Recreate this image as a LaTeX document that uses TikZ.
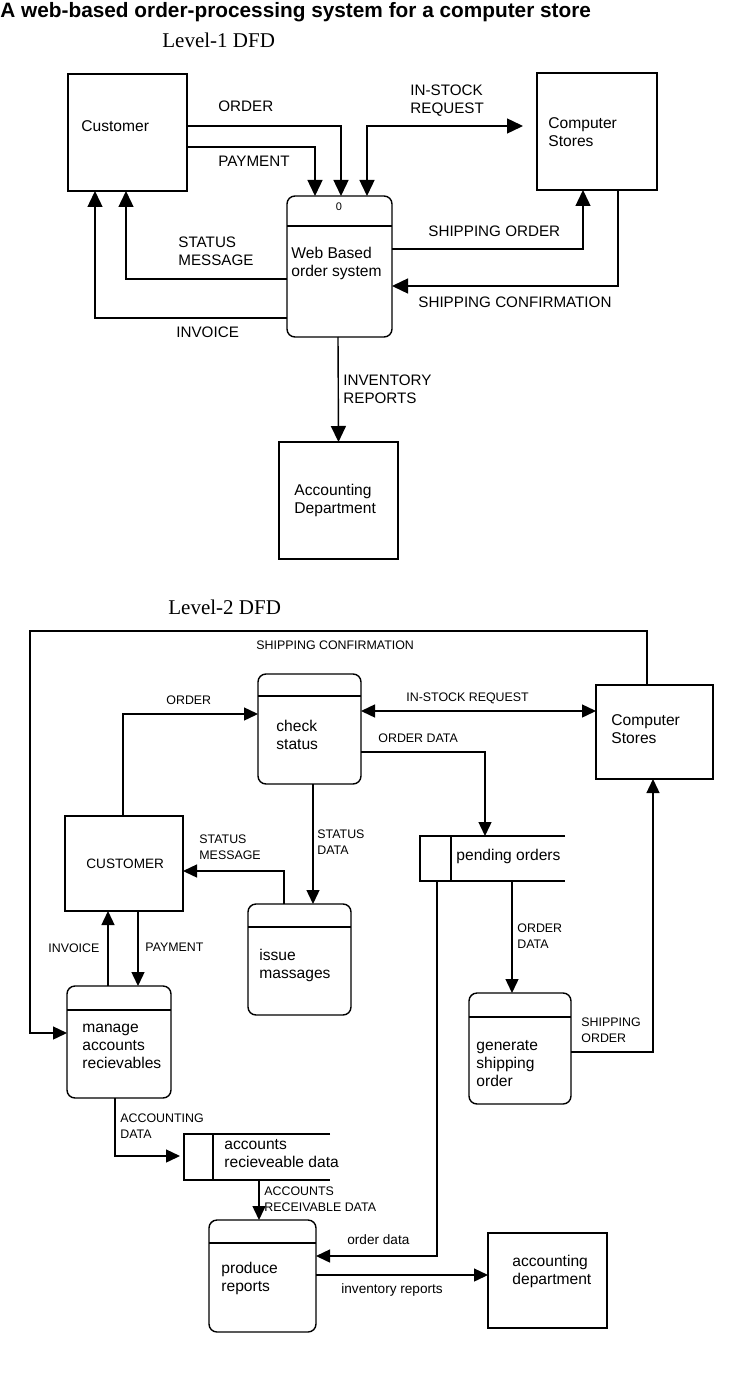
\documentclass[tikz,border=0pt]{standalone}
\usepackage{fontspec}
\setmainfont{Liberation Sans}
\newfontfamily\serifF{Liberation Serif}
\usetikzlibrary{arrows.meta}
\begin{document}
\begin{tikzpicture}[x=0.5pt,y=-0.5pt,
  box/.style={draw,line width=0.7pt,inner sep=0pt,outer sep=0pt},
  proc/.style={box,rounded corners=4pt},
  ghost/.style={inner sep=0pt,outer sep=0pt},
  t1/.style={font=\fontsize{7.6}{9}\selectfont,anchor=north west,align=left,inner sep=0pt},
  t2/.style={font=\fontsize{6.2}{8}\selectfont,anchor=north west,align=left,inner sep=0pt},
  tn/.style={font=\fontsize{7.8}{9}\selectfont,anchor=north west,align=left,inner sep=0pt},
  a1/.style={line width=0.7pt,-{Triangle[length=8pt,width=7.5pt]}},
  a1b/.style={line width=0.7pt,{Triangle[length=8pt,width=7.5pt]}-{Triangle[length=8pt,width=7.5pt]}},
  a2/.style={line width=0.7pt,-{Triangle[length=7pt,width=6.5pt]}},
  a2b/.style={line width=0.7pt,{Triangle[length=7pt,width=6.5pt]}-{Triangle[length=7pt,width=6.5pt]}},
  ln/.style={line width=0.7pt}]
\useasboundingbox[fill=white] (0,0) rectangle (740,1390);
% titles
\node[anchor=west,inner sep=0pt,font=\fontsize{10.4}{12}\selectfont\bfseries] (title) at (0,12) {A web-based order-processing system for a computer store};
\node[anchor=west,inner sep=0pt,font=\serifF\fontsize{10.5}{12}\selectfont] (lev1) at (162,40) {Level-1 DFD};
\node[anchor=west,inner sep=0pt,font=\serifF\fontsize{10.5}{12}\selectfont] (lev2) at (168,607) {Level-2 DFD};
% ---------- Level 1 ----------
\node[box,minimum width=59.5pt,minimum height=58.5pt] (cust) at (127.5,132.5) {};
\node[tn] (custT) at (81,120) {Customer};
\node[box,minimum width=60pt,minimum height=58.5pt] (cs) at (597,131.5) {};
\node[tn] (csT) at (548,117) {Computer\\Stores};
\node[proc,minimum width=52.5pt,minimum height=70.5pt] (web) at (339.5,266.5) {};
\draw[ln] (web.west|-0,226) -- (web.east|-0,226);
\node[font=\fontsize{5.5}{6}\selectfont,inner sep=0pt] (webN) at (339,207) {0};
\node[tn] (webT) at (291,247) {Web Based\\order system};
\node[box,minimum width=59.5pt,minimum height=58.5pt] (acc1) at (338.5,500.5) {};
\node[tn] (acc1T) at (294,484) {Accounting\\Department};
\draw[a1] (cust.east|-0,126) -| (web.north-|341,0);
\draw[a1] (cust.east|-0,147) -| (web.north-|315,0);
\draw[a1b,shorten >=7pt] (web.north-|367,0) |- (cs.west|-0,126);
\draw[a1] (web.east|-0,249) -| (cs.south-|583,0);
\draw[a1] (cs.south-|618,0) |- (web.east|-0,286);
\draw[a1] (web.west|-0,279) -| (cust.south-|126,0);
\draw[a1] (web.west|-0,318) -| (cust.south-|95,0);
\draw[a1] (web.south-|338,0) -- (acc1.north);
\node[t1] (lOrder) at (218,100) {ORDER};
\node[t1] (lPay) at (218,156) {PAYMENT};
\node[t1] (lStock) at (410,84) {IN-STOCK\\REQUEST};
\node[t1] (lShip) at (428,225) {SHIPPING ORDER};
\node[t1] (lConf) at (418,296) {SHIPPING CONFIRMATION};
\node[t1] (lStat) at (178,236) {STATUS\\MESSAGE};
\node[t1] (lInv) at (176,326) {INVOICE};
\node[t1] (lInvRep) at (343,374) {INVENTORY\\REPORTS};
% ---------- Level 2 ----------
\node[proc,minimum width=51.5pt,minimum height=55pt] (check) at (309.5,729) {};
\draw[ln] (check.west|-0,696) -- (check.east|-0,696);
\node[tn] (checkT) at (276,720) {check\\status};
\node[box,minimum width=58.5pt,minimum height=47pt] (cs2) at (654.5,732) {};
\node[tn] (cs2T) at (611,714) {Computer\\Stores};
\node[box,minimum width=59pt,minimum height=47.5pt] (cust2) at (124,863.5) {};
\node[t2,font=\fontsize{6.8}{8}\selectfont] (cust2T) at (86,859) {CUSTOMER};
\node[proc,minimum width=51.5pt,minimum height=55.5pt] (issue) at (299.5,959.5) {};
\draw[ln] (issue.west|-0,927) -- (issue.east|-0,927);
\node[tn] (issueT) at (259,949) {issue\\massages};
\node[proc,minimum width=52pt,minimum height=56pt] (manage) at (119,1042) {};
\draw[ln] (manage.west|-0,1010) -- (manage.east|-0,1010);
\node[tn] (manageT) at (82,1024) {manage\\accounts\\recievables};
\node[proc,minimum width=51pt,minimum height=55.5pt] (gen) at (520,1048.5) {};
\draw[ln] (gen.west|-0,1017) -- (gen.east|-0,1017);
\node[tn] (genT) at (476,1040) {generate\\shipping\\order};
\node[proc,minimum width=53.5pt,minimum height=56pt] (prod) at (262.5,1276) {};
\draw[ln] (prod.west|-0,1243) -- (prod.east|-0,1243);
\node[tn] (prodT) at (221,1262) {produce\\reports};
\node[box,minimum width=59.5pt,minimum height=47.5pt] (acc2) at (547.5,1280.5) {};
\node[tn] (acc2T) at (512,1255) {accounting\\department};
% data stores
\node[ghost,minimum width=72.5pt,minimum height=22.5pt] (pend) at (492.5,858.5) {};
\draw[ln] (565,836) -- (420,836) -- (420,881) -- (565,881) (451,836) -- (451,881);
\node[tn] (pendT) at (456,849) {pending orders};
\node[ghost,minimum width=73pt,minimum height=23pt] (ard) at (257,1157) {};
\draw[ln] (330,1134) -- (184,1134) -- (184,1180) -- (330,1180) (213,1134) -- (213,1180);
\node[tn] (ardT) at (224,1139) {accounts\\recieveable data};
% level 2 flows
\draw[a2] (cs2.north-|647,0) |- (30,631) |- (manage.west|-0,1033);
\draw[a2b] (check.east|-0,711) -- (cs2.west|-0,711);
\draw[a2] (cust2.north-|123,0) |- (check.west|-0,714);
\draw[a2] (check.east|-0,752) -| (pend.north-|485,0);
\draw[a2] (issue.north-|284,0) |- (cust2.east|-0,871);
\draw[a2] (check.south-|313,0) -- (issue.north-|313,0);
\draw[a2] (manage.north-|108,0) -- (cust2.south-|108,0);
\draw[a2] (cust2.south-|138,0) -- (manage.north-|138,0);
\draw[a2] (pend.south-|512,0) -- (gen.north-|512,0);
\draw[a2] (gen.east|-0,1052) -| (cs2.south-|653,0);
\draw[a2] (pend.south-|437,0) |- (prod.east|-0,1256);
\draw[a2,shorten >=2pt] (manage.south-|115,0) |- (ard.west|-0,1156);
\draw[a2] (ard.south-|259,0) -- (prod.north-|259,0);
\draw[a2] (prod.east|-0,1275) -- (acc2.west|-0,1275);
\node[t2] (mConf) at (256,640) {SHIPPING CONFIRMATION};
\node[t2] (mStock) at (406,692) {IN-STOCK REQUEST};
\node[t2] (mOrder) at (166,695) {ORDER};
\node[t2] (mOD) at (378,733) {ORDER DATA};
\node[t2] (mSM) at (199,834) {STATUS\\MESSAGE};
\node[t2] (mSD) at (317,829) {STATUS\\DATA};
\node[t2] (mInv) at (48,943) {INVOICE};
\node[t2] (mPay) at (145,943) {PAYMENT};
\node[t2] (mOD2) at (517,923) {ORDER\\DATA};
\node[t2] (mSO) at (581,1017) {SHIPPING\\ORDER};
\node[t2] (mAD) at (120,1113) {ACCOUNTING\\DATA};
\node[t2] (mARD) at (264,1186) {ACCOUNTS\\RECEIVABLE DATA};
\node[t2,font=\fontsize{6.8}{8}\selectfont] (mod) at (347,1234) {order data};
\node[t2,font=\fontsize{6.8}{8}\selectfont] (mir) at (341,1283) {inventory reports};
\end{tikzpicture}
\end{document}
